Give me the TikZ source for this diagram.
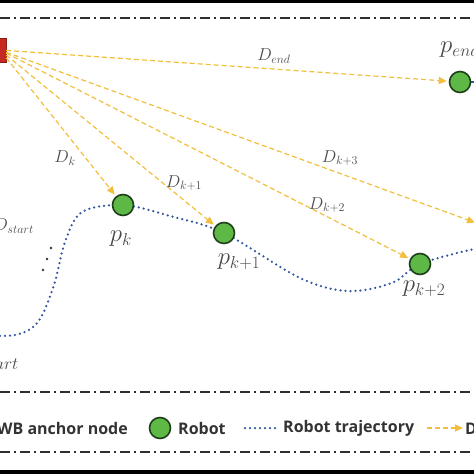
\documentclass[tikz,border=0pt]{standalone}
\usepackage{fontspec}
\newfontfamily\legendfont{Open Sans}
\usetikzlibrary{arrows.meta}
\definecolor{robotgreen}{HTML}{5DB846}
\definecolor{robotedge}{HTML}{1E3F1A}
\definecolor{distyellow}{HTML}{F2BE3C}
\definecolor{trajblue}{HTML}{34559F}
\definecolor{sepgray}{HTML}{2E2E2E}
\definecolor{labgray}{HTML}{4A4A4A}
\definecolor{leggray}{HTML}{333333}
\definecolor{anchorred}{HTML}{C42A20}
\begin{document}
\begin{tikzpicture}[x=1pt,y=-1pt,
  robot/.style={circle,draw=robotedge,fill=robotgreen,line width=1.6pt,minimum size=21pt,inner sep=0pt},
  dist/.style={draw=distyellow,line width=1.2pt,dash pattern=on 5pt off 3pt,-{Triangle[length=8pt,width=7pt]},shorten >=2pt},
  traj/.style={draw=trajblue,line width=2.5pt,line cap=round,dash pattern=on 0pt off 5pt},
  sep/.style={draw=sepgray,line width=2.2pt,dash pattern=on 10pt off 4pt on 2pt off 4pt},
  lab/.style={text=labgray,inner sep=0pt,font=\fontsize{17.5}{19}\selectfont},
  plab/.style={text=labgray,inner sep=0pt,font=\fontsize{25}{27}\selectfont},
  leg/.style={text=leggray,inner sep=0pt,font=\legendfont\bfseries\fontsize{16}{18}\selectfont},
  anchorbox/.style={draw=anchorred!70!black,fill=anchorred,minimum width=12pt,minimum height=24pt,inner sep=0pt}
]
\useasboundingbox (0,0) rectangle (474,474);
\clip (0,0) rectangle (474,474);
% frame bars and separators
\fill[black] (0,0) rectangle (474,3);
\fill[black] (0,470) rectangle (474,474);
\coordinate (t1) at (0,18);  \coordinate (t2) at (474,18);
\coordinate (b1) at (0,392); \coordinate (b2) at (474,392);
\coordinate (c1) at (0,452); \coordinate (c2) at (474,452);
\draw[sep] (t1) -- (t2);
\draw[sep] (b1) -- (b2);
\draw[sep] (c1) -- (c2);

% trajectory waypoints
\coordinate (s0) at (-20,335);
\coordinate (s1) at (15,335);
\coordinate (s2) at (38,322);
\coordinate (s3) at (54,285);
\coordinate (s4) at (65,242);
\coordinate (s5) at (82,212);
\coordinate (pkc) at (123,205);
\coordinate (m1) at (170,216);
\coordinate (pk1c) at (224,233);
\coordinate (m2) at (300,278);
\coordinate (m3) at (348,291);
\coordinate (m4) at (392,283);
\coordinate (pk2c) at (420,264);
\coordinate (m5) at (474,249);
\coordinate (m6) at (500,246);
\draw[traj] plot[smooth,tension=0.55] coordinates {(s0) (s1) (s2) (s3) (s4) (s5) (pkc) (m1) (pk1c) (m2) (m3) (m4) (pk2c) (m5) (m6)};
\coordinate (pendr) at (500,82);
\draw[trajblue,line width=1.5pt] (460,82) -- (pendr);

% anchor
\node[anchorbox] (anc) at (0,50) {};

% robots
\node[robot] (pk) at (pkc) {};
\node[robot] (pk1) at (pk1c) {};
\node[robot] (pk2) at (pk2c) {};
\node[robot] (pend) at (460,82) {};
\coordinate (pk3) at (475,222.5);

% distances
\draw[dist] (anc) -- (pend);
\draw[dist] (anc) -- (pk);
\draw[dist] (anc) -- (pk1);
\draw[dist] (anc) -- (pk2);
\draw[dist,shorten >=0pt] (anc) -- (pk3);

% labels
\node[lab] (ldend) at (274,56) {$D_{end}$};
\node[lab] (ldk3) at (340,158) {$D_{k+3}$};
\node[lab] (ldk2) at (327,205) {$D_{k+2}$};
\node[lab] (ldk) at (65,158) {$D_{k}$};
\node[lab] (ldk1) at (184,183) {$D_{k+1}$};
\node[lab,anchor=east] (ldstart) at (34,226) {$D_{start}$};
\node[plab] (lpk) at (121,239) {$p_{k}$};
\node[plab] (lpk1) at (239,262) {$p_{k+1}$};
\node[plab] (lpk2) at (424,289) {$p_{k+2}$};
\node[plab,anchor=west] (lpend) at (440,50) {$p_{end}$};
\node[plab,anchor=east] (lpstart) at (19,363) {$p_{start}$};

% ellipsis
\fill[black!80] (51,248) circle (1.4);
\fill[black!80] (47,259) circle (1.4);
\fill[black!80] (43,270) circle (1.4);

% legend
\node[leg,anchor=east] (l1) at (128,428) {UWB anchor node};
\node[robot] (l2) at (160,428) {};
\node[leg,anchor=west] (l3) at (178,428) {Robot};
\coordinate (l4a) at (245,428); \coordinate (l4b) at (276,428);
\draw[traj] (l4a) -- (l4b);
\node[leg,anchor=west] (l5) at (283,428) {Robot trajectory};
\coordinate (l6a) at (427,428); \coordinate (l6b) at (463,428);
\draw[dist,shorten >=0pt] (l6a) -- (l6b);
\node[leg,anchor=west] (l7) at (465,428) {Distance};
\end{tikzpicture}
\end{document}
